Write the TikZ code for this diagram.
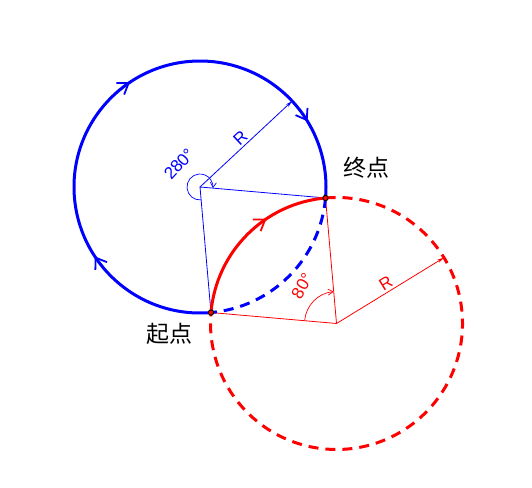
\documentclass[tikz,border=0pt]{standalone}
\usepackage{fontspec}
\setmainfont{Liberation Sans}
\newfontfamily\cjk{Noto Sans CJK SC}
\usetikzlibrary{arrows.meta,decorations.markings}

\begin{document}
\begin{tikzpicture}[x=1pt,y=1pt,
  heavy/.style={line width=3pt},
  hair/.style={line width=0.8pt},
  gap/.style={line width=3pt,dash pattern=on 10pt off 7pt},
  chev/.tip={Straight Barb[length=10pt,width=14pt,line width=1.8pt]},
  tick/.style={-{Straight Barb[length=5pt,width=6pt]},line width=0.7pt},
  lbl/.style={font=\fontsize{17}{17}\selectfont,inner sep=2pt}]
  \useasboundingbox (0,0) rectangle (532,487);

  \coordinate (C1) at (200,300);
  \coordinate (S) at ([shift={(-85:126)}]C1);
  \coordinate (E) at ([shift={(-5:126)}]C1);
  \coordinate (C2) at ([shift={(-5:126)}]S);
  \coordinate (B) at ([shift={(43:126)}]C1);
  \coordinate (D) at ([shift={(31.5:126)}]C2);

  % radii
  \draw [blue,hair] (S) -- (C1) -- (E);
  \draw [red,hair] (S) -- (C2) -- (E);
  \draw [blue,hair,-{Stealth[length=7pt,width=3.5pt]}] (C1) -- node [lbl,sloped,above] {R} (B);
  \draw [red,hair,-{Stealth[length=7pt,width=3.5pt]}] (C2) -- node [lbl,sloped,above] {R} (D);

  % angle marks
  \draw [blue,tick] ([shift={(-85:13)}]C1) arc [start angle=-85, end angle=-365, radius=13];
  \draw [red,tick] ([shift={(175:32)}]C2) arc [start angle=175, end angle=95, radius=32];
  \node [lbl,blue,rotate=47] (a280) at (179,323) {280°};
  \node [lbl,red,rotate=60] (a80) at (302,201) {80°};

  % remaining parts of the circles
  \draw [blue,gap] (E) arc [start angle=-5, end angle=-85, radius=126];
  \draw [red,gap] (E) arc [start angle=95, end angle=-185, radius=126];

  % the two paths
  \draw [blue,heavy,postaction={decorate},decoration={markings,
    mark=at position 0.22 with {\arrow{chev}},
    mark=at position 0.54 with {\arrow{chev}},
    mark=at position 0.87 with {\arrow{chev}}}]
    (S) arc [start angle=-85, end angle=-365, radius=126];
  \draw [red,heavy,postaction={decorate},decoration={markings,
    mark=at position 0.64 with {\arrow{chev}}}]
    (S) arc [start angle=175, end angle=95, radius=126];

  % end points
  \filldraw [fill=red,draw=black,line width=0.9pt] (S) circle (2.7);
  \filldraw [fill=red,draw=black,line width=0.9pt] (E) circle (2.7);
  \node [font=\cjk\fontsize{23}{23}\selectfont] (start) at (169,153) {起点};
  \node [font=\cjk\fontsize{23}{23}\selectfont] (end) at (366,319) {终点};
\end{tikzpicture}
\end{document}
